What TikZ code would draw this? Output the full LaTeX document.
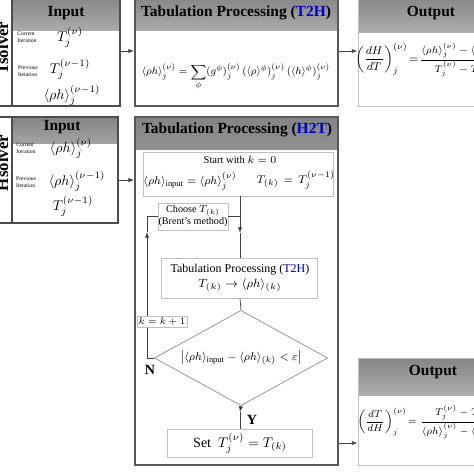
\RequirePackage{fix-cm}
\documentclass[tikz,border=0pt]{standalone}
\usepackage{amsmath,amssymb}
\usepackage{fontspec}
\setmainfont{Liberation Serif}
\usetikzlibrary{positioning,arrows.meta,fit,calc,shapes.geometric}

\begin{document}
\begin{tikzpicture}[x=0.025cm, y=-0.025cm,
  sidebox/.style={draw=black!70, line width=0.8pt, inner sep=0pt},
  inbox/.style={draw=black!70, line width=0.9pt, inner sep=0pt},
  procbox/.style={draw=black!65, line width=1.3pt, inner sep=0pt},
  outbox/.style={draw=black!25, line width=0.6pt, inner sep=0pt},
  stepbox/.style={draw=black!25, line width=0.5pt, inner sep=0pt},
  hdr/.style={path picture={\shade[top color=black!48, bottom color=white]
      (path picture bounding box.north west) rectangle ([yshift=-#1]path picture bounding box.north east);}},
  ttl/.style={font=\fontsize{11}{13}\selectfont\bfseries, inner sep=1pt},
  side/.style={font=\fontsize{12}{14}\selectfont\bfseries, rotate=90, anchor=base, inner sep=0pt},
  iter/.style={font=\fontsize{4}{4.6}\selectfont, align=left, inner sep=0pt},
  ineq/.style={font=\fontsize{10}{12}\selectfont, inner sep=0pt},
  eq/.style={font=\fontsize{8}{10}\selectfont, inner sep=1pt},
  small/.style={font=\fontsize{7.5}{9}\selectfont, inner sep=1pt},
  dia/.style={diamond, draw=black!45, line width=0.5pt, aspect=1.82, inner sep=0pt,
      minimum width=4.33cm, minimum height=2.38cm},
  conn/.style={draw=black!75, line width=0.5pt},
  arr/.style={conn, -{Latex[length=4pt,width=3pt]}},
  yn/.style={font=\fontsize{10}{12}\selectfont\bfseries, inner sep=0pt}
]
\useasboundingbox (0,0) rectangle (474,474);
\clip (0,0) rectangle (474,474);

\node[sidebox, fit={(-30,-4) (12,106)}] (tside) {};
\node[inbox, hdr=0.85cm, fit={(12,-4) (120,106)}] (tin) {};
\node[procbox, hdr=0.85cm, fit={(135,-4) (338,106)}] (t2h) {};
\node[outbox, hdr=0.9cm, fit={(358,-4) (500,106)}] (tout) {};
\node[sidebox, fit={(-30,117) (12,223)}] (hside) {};
\node[inbox, hdr=0.65cm, fit={(12,117) (118,223)}] (hin) {};
\node[procbox, hdr=0.82cm, fit={(135,117) (338,465)}] (h2t) {};
\node[outbox, hdr=0.93cm, fit={(358,358) (500,465)}] (hout) {};

\node[side] (tsolver) at (8,48) {Tsolver};
\node[side] (hsolver) at (8,163) {Hsolver};

\node[ttl] (tinT) at (66,13) {Input};
\node[iter] (tcur) at (27,37) {Current\\Iteration};
\node[ineq] (tcurv) at (70,37) {$T_j^{(\nu)}$};
\node[iter] (tprev) at (28,71) {Previous\\Iteration};
\node[ineq] (tprevT) at (70,69) {$T_j^{(\nu-1)}$};
\node[ineq] (tprevH) at (72,95) {$\langle\rho h\rangle_j^{(\nu-1)}$};

\node[ttl] (t2hT) at (236,13) {Tabulation Processing (\textcolor{blue!80!black}{T2H})};
\node[eq] (t2hEq) at (236,77) {\scalebox{0.92}{$\langle\rho h\rangle_j^{(\nu)}=\displaystyle\sum_{\phi}(g^{\phi})_j^{(\nu)}\,(\langle\rho\rangle^{\phi})_j^{(\nu)}\,(\langle h\rangle^{\phi})_j^{(\nu)}$}};

\node[ttl] (toutT) at (431,13) {Output};
\node[font=\fontsize{8}{10}\selectfont, inner sep=0pt, anchor=west] (toutEq) at (355,60)
  {$\displaystyle\left(\frac{dH}{dT}\right)_j^{(\nu)}\!=\!\mbox{\fontsize{7}{8}\selectfont$\displaystyle\frac{\langle\rho h\rangle_j^{(\nu)}-\langle\rho h\rangle_j^{(\nu-1)}}{T_j^{(\nu)}-T_j^{(\nu-1)}}$}$};

\node[ttl] (hinT) at (62,127) {Input};
\node[iter] (hcur) at (26,148) {Current\\Iteration};
\node[ineq] (hcurv) at (71,148) {$\langle\rho h\rangle_j^{(\nu)}$};
\node[iter] (hprev) at (26,182) {Previous\\Iteration};
\node[ineq] (hprevH) at (77,181) {$\langle\rho h\rangle_j^{(\nu-1)}$};
\node[ineq] (hprevT) at (73,206) {$T_j^{(\nu-1)}$};

\node[ttl] (h2tT) at (237,130) {Tabulation Processing (\textcolor{blue!80!black}{H2T})};
\node[stepbox, fit={(143,152) (333,196)}] (start) {};
\node[small] (startL) at (240,160) {Start with $k=0$};
\node[eq] (startA) at (190,181) {$\langle\rho h\rangle_{\text{input}}=\langle\rho h\rangle_j^{(\nu)}$};
\node[eq] (startB) at (296,180) {$T_{(k)}\,=\,T_j^{(\nu-1)}$};

\node[stepbox, fit={(158,203) (228,230)}] (choose) {};
\node[font=\fontsize{7.2}{8.8}\selectfont, align=center, inner sep=0pt] (chooseL) at (193,216) {Choose $T_{(k)}$\\(Brent's method)};

\node[stepbox, fit={(161,258) (317,298)}] (tp) {};
\node[font=\fontsize{8.5}{10}\selectfont, align=center, inner sep=0pt] (tpL) at (240,278)
  {Tabulation Processing (\textcolor{blue!70!black}{T2H})\\$T_{(k)}\rightarrow\langle\rho h\rangle_{(k)}$};

\node[dia, font=\fontsize{8}{10}\selectfont] (dec) at (241,358)
  {$\left|\langle\rho h\rangle_{\text{input}}-\langle\rho h\rangle_{(k)}<\varepsilon\right|$};

\node[stepbox, fit={(167,429) (312,457)}] (setb) {};
\node[font=\fontsize{10}{12}\selectfont, inner sep=0pt] (setL) at (240,443) {Set\ \ $T_j^{(\nu)}=T_{(k)}$};

\node[ttl] (houtT) at (433,372) {Output};
\node[font=\fontsize{7}{8}\selectfont, inner sep=0pt, anchor=west] (houtEq) at (357,422)
  {$\displaystyle\left(\frac{dT}{dH}\right)_j^{(\nu)}\!=\frac{T_j^{(\nu)}-T_j^{(\nu-1)}}{\langle\rho h\rangle_j^{(\nu)}-\langle\rho h\rangle_j^{(\nu-1)}}$};

\coordinate (midA) at (240,233);
\coordinate (midB) at (147,232);
\coordinate (nk) at (147,358);
\coordinate (midC) at (240,412);

\draw[arr] (tin.east) -- (t2h.west);
\draw[arr] (t2h.east) -- (tout.west);
\draw[arr] ([yshift=-0.25cm]hin.east) -- ([yshift=-0.25cm]hin.east -| h2t.west);
\draw[arr] (start.south -| midA) -- (midA);
\draw[conn] (midA) -- (tp.north -| midA);
\draw[conn] (choose.east) -- (choose.east -| midA);
\draw[conn] (tp.south -| midA) -- (dec.north);
\draw[conn] (dec.west) -- (nk);
\draw[arr] (nk) -- (midB);
\draw[conn] (midB) |- (choose.west);
\draw[arr] (dec.south) -- (midC);
\draw[conn] (midC) -- (setb.north -| midC);
\draw[arr] (h2t.east |- setb) -- (hout.west |- setb);

\node[draw=black!25, fill=white, font=\fontsize{7}{8}\selectfont, inner sep=1.2pt] (kinc) at (162,322) {$k=k+1$};
\node[yn] (nlbl) at (150,370) {N};
\node[yn] (ylbl) at (252,420) {Y};

\end{tikzpicture}
\end{document}
